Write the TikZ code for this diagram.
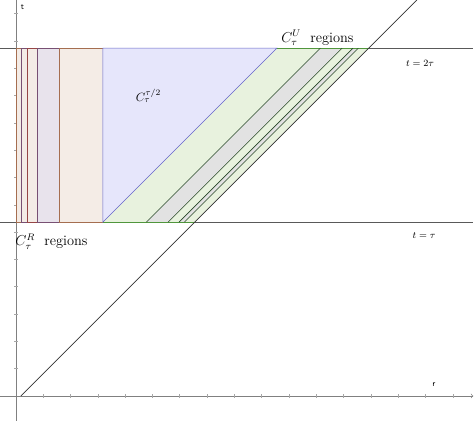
\documentclass[tikz,border=0pt]{standalone}
\usepackage{pgf,tikz}
\usetikzlibrary{arrows}
\definecolor{rpeach}{RGB}{244,236,230}
\definecolor{rlav}{RGB}{232,227,236}
\definecolor{rbrown}{RGB}{165,110,80}
\definecolor{rplum}{RGB}{120,80,115}
\definecolor{rred}{RGB}{150,70,70}
\definecolor{tblue}{RGB}{100,100,200}
\definecolor{tlav}{RGB}{230,230,251}
\definecolor{ulight}{RGB}{232,242,222}
\definecolor{ugray}{RGB}{226,226,226}
\definecolor{ugreen}{RGB}{80,150,60}
\definecolor{udark}{RGB}{40,70,40}
\def\tv{6.37}
\def\dg{0.18}

\begin{document}
\begin{tikzpicture}[x=0.8cm,y=0.8cm,line width=0.5pt]
\useasboundingbox (-0.586,-0.916) rectangle (16.777,14.505);

\draw[gray] (0,-0.916)--(0,14.505);
\draw[gray,->] (-0.586,0)--(16.75,0);
\foreach \k in {1,...,16} \draw[gray!70] (\k,-0.06)--(\k,0.06);
\foreach \k in {1,...,14} \draw[gray!70] (-0.06,\k)--(0.06,\k);
\node[right] (tlab) at (0.02,14.25) {\sffamily\scriptsize t};
\node (rlab) at (15.31,0.4) {\sffamily\scriptsize r};

\draw[black!65] (-0.586,\tv)--(16.75,\tv);
\draw[black!65] (-0.586,2*\tv)--(16.75,2*\tv);

\filldraw[draw=rbrown,fill=rpeach] (0,\tv) rectangle (\tv/32,2*\tv);
\filldraw[draw=rplum,fill=rpeach] (\tv/32,\tv) rectangle (\tv/16,2*\tv);
\filldraw[draw=rred,fill=rpeach] (\tv/16,\tv) rectangle (\tv/8,2*\tv);
\filldraw[draw=rplum,fill=rlav] (\tv/8,\tv) rectangle (\tv/4,2*\tv);
\filldraw[draw=rbrown,fill=rpeach] (\tv/4,\tv) rectangle (\tv/2,2*\tv);

\fill[ulight] (\tv/2,\tv)--(0.75*\tv,\tv)--(1.75*\tv,2*\tv)--(1.5*\tv,2*\tv)--cycle;
\fill[ugray] (0.75*\tv,\tv)--(0.875*\tv,\tv)--(1.875*\tv,2*\tv)--(1.75*\tv,2*\tv)--cycle;
\fill[ulight] (0.875*\tv,\tv)--(0.9375*\tv,\tv)--(1.9375*\tv,2*\tv)--(1.875*\tv,2*\tv)--cycle;
\fill[ugray] (0.9375*\tv,\tv)--(0.96875*\tv,\tv)--(1.96875*\tv,2*\tv)--(1.9375*\tv,2*\tv)--cycle;
\fill[ulight] (0.96875*\tv,\tv)--(\tv+\dg,\tv)--(2*\tv+\dg,2*\tv)--(1.96875*\tv,2*\tv)--cycle;
\draw[ugreen] (\tv/2,\tv)--(\tv+\dg,\tv);
\draw[ugreen] (1.5*\tv,2*\tv)--(2*\tv+\dg,2*\tv);
\foreach \f in {0.75,0.875,0.9375,0.96875} \draw[udark] (\f*\tv,\tv)--++(\tv,\tv);

\filldraw[draw=tblue,fill=tlav] (\tv/2,\tv)--(1.5*\tv,2*\tv)--(\tv/2,2*\tv)--cycle;

\draw[black!80] (\dg,0)--(14.505+\dg,14.505);

\node (cu) at (11.04,13.11) {\large $C_\tau^U$\ \ regions};
\node (cr) at (1.3,5.65) {\large $C_\tau^R$\ \ regions};
\node (ch) at (4.85,11.0) {$C_\tau^{\tau/2}$};
\node (tt) at (14.8,12.2) {\footnotesize $t=2\tau$};
\node (to) at (14.95,5.86) {\footnotesize $t=\tau$};
\end{tikzpicture}
\end{document}
